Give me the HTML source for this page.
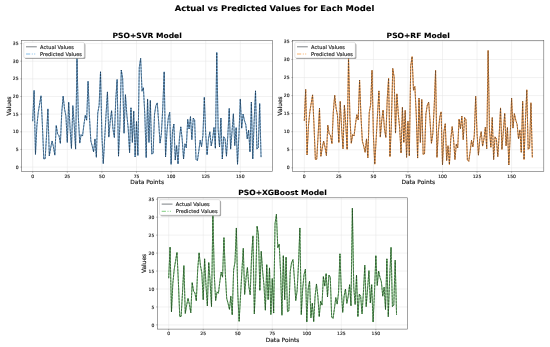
<!DOCTYPE html>
<html lang="en"><head><meta charset="utf-8"><title>Actual vs Predicted Values for Each Model</title>
<style>html,body{margin:0;padding:0;background:#fff;overflow:hidden}svg{display:block}text{stroke:#222;stroke-width:.14px;paint-order:stroke}text[font-weight=bold]{stroke:#000;stroke-width:.1px}</style></head>
<body>
<svg width="550" height="347" viewBox="0 0 550 347" font-family="'DejaVu Sans','Liberation Sans',sans-serif" text-rendering="geometricPrecision">
<rect width="550" height="347" fill="#fff"/>
<text transform="translate(274.5,10.8) scale(1,0.94)" font-size="8.42" font-weight="bold" text-anchor="middle" fill="#000">Actual vs Predicted Values for Each Model</text>
<g>
<rect x="21.6" y="40.5" width="251.1" height="131.1" fill="#fff"/>
<line x1="32.70" y1="40.5" x2="32.70" y2="171.6" stroke="#e4e4e4" stroke-width="0.5"/>
<line x1="67.30" y1="40.5" x2="67.30" y2="171.6" stroke="#e4e4e4" stroke-width="0.5"/>
<line x1="101.90" y1="40.5" x2="101.90" y2="171.6" stroke="#e4e4e4" stroke-width="0.5"/>
<line x1="136.50" y1="40.5" x2="136.50" y2="171.6" stroke="#e4e4e4" stroke-width="0.5"/>
<line x1="171.10" y1="40.5" x2="171.10" y2="171.6" stroke="#e4e4e4" stroke-width="0.5"/>
<line x1="205.70" y1="40.5" x2="205.70" y2="171.6" stroke="#e4e4e4" stroke-width="0.5"/>
<line x1="240.30" y1="40.5" x2="240.30" y2="171.6" stroke="#e4e4e4" stroke-width="0.5"/>
<line x1="21.6" y1="167.10" x2="272.7" y2="167.10" stroke="#e4e4e4" stroke-width="0.5"/>
<line x1="21.6" y1="149.45" x2="272.7" y2="149.45" stroke="#e4e4e4" stroke-width="0.5"/>
<line x1="21.6" y1="131.80" x2="272.7" y2="131.80" stroke="#e4e4e4" stroke-width="0.5"/>
<line x1="21.6" y1="114.15" x2="272.7" y2="114.15" stroke="#e4e4e4" stroke-width="0.5"/>
<line x1="21.6" y1="96.50" x2="272.7" y2="96.50" stroke="#e4e4e4" stroke-width="0.5"/>
<line x1="21.6" y1="78.85" x2="272.7" y2="78.85" stroke="#e4e4e4" stroke-width="0.5"/>
<line x1="21.6" y1="61.20" x2="272.7" y2="61.20" stroke="#e4e4e4" stroke-width="0.5"/>
<line x1="21.6" y1="43.55" x2="272.7" y2="43.55" stroke="#e4e4e4" stroke-width="0.5"/>
<clipPath id="c0"><rect x="21.6" y="40.5" width="251.1" height="131.1"/></clipPath>
<g clip-path="url(#c0)" fill="none" stroke-linejoin="round">
<polyline points="32.70,121.21 34.08,90.50 35.47,154.39 36.85,126.15 38.24,112.38 39.62,103.91 41.00,95.79 42.39,124.74 43.77,158.98 45.16,158.63 46.54,135.33 47.92,108.85 49.31,155.80 50.69,147.69 52.08,140.98 53.46,146.98 54.84,155.10 56.23,125.45 57.61,133.92 59.00,135.68 60.38,143.45 61.76,112.38 63.15,96.15 64.53,108.85 65.92,115.91 67.30,142.39 68.68,102.15 70.07,128.27 71.45,148.39 72.84,105.68 74.22,124.74 75.60,149.10 76.99,58.38 78.37,117.68 79.76,143.10 81.14,134.62 82.52,136.04 83.91,124.74 85.29,115.21 86.68,120.15 88.06,81.32 89.44,116.62 90.83,140.98 92.21,145.92 93.60,151.92 94.98,138.86 96.36,157.22 97.75,113.09 99.13,105.32 100.52,71.79 101.90,135.33 103.28,163.57 104.67,138.86 106.05,114.50 107.44,91.91 108.82,137.09 110.20,121.21 111.59,110.62 112.97,128.98 114.36,137.45 115.74,100.03 117.12,79.56 118.51,156.16 119.89,124.74 121.28,70.03 122.66,78.50 124.04,133.21 125.43,94.73 126.81,114.50 128.20,128.27 129.58,152.63 130.96,107.80 132.35,142.39 133.73,110.97 135.12,156.86 136.50,121.56 137.88,155.45 139.27,67.55 140.65,58.38 142.04,91.20 143.42,87.67 144.80,114.50 146.19,157.57 147.57,98.97 148.96,142.39 150.34,100.38 151.72,154.04 153.11,153.33 154.49,114.50 155.88,105.68 157.26,102.85 158.64,121.56 160.03,143.10 161.41,133.56 162.80,107.09 164.18,71.79 165.56,156.86 166.95,131.80 168.33,117.68 169.72,112.38 171.10,164.28 172.48,131.80 173.87,124.03 175.25,160.04 176.64,145.57 178.02,163.92 179.40,138.86 180.79,126.86 182.17,138.86 183.56,158.98 184.94,143.80 186.32,147.69 187.71,119.44 189.09,128.98 190.48,116.62 191.86,139.57 193.24,118.03 194.63,120.15 196.01,159.33 197.40,160.75 198.78,151.22 200.16,140.27 201.55,146.63 202.93,135.33 204.32,97.21 205.70,133.56 207.08,154.75 208.47,138.86 209.85,131.80 211.24,145.92 212.62,138.86 214.00,127.56 215.39,148.39 216.77,52.38 218.16,130.03 219.54,146.98 220.92,118.03 222.31,158.98 223.69,136.74 225.08,138.86 226.46,156.16 227.84,135.33 229.23,108.50 230.61,149.10 232.00,131.80 233.38,113.80 234.76,145.57 236.15,127.56 237.53,164.28 238.92,135.33 240.30,98.97 241.68,128.27 243.07,114.15 244.45,120.50 245.84,124.74 247.22,138.86 248.60,130.03 249.99,151.92 251.37,102.15 252.76,158.98 254.14,121.56 255.52,90.85 256.91,149.10 258.29,147.69 259.68,103.56 261.06,157.22" stroke="#6ab0e4" stroke-width="0.95" opacity="0.45"/>
<polyline points="32.70,121.21 34.08,90.50 35.47,154.39 36.85,126.15 38.24,112.38 39.62,103.91 41.00,95.79 42.39,124.74 43.77,158.98 45.16,158.63 46.54,135.33 47.92,108.85 49.31,155.80 50.69,147.69 52.08,140.98 53.46,146.98 54.84,155.10 56.23,125.45 57.61,133.92 59.00,135.68 60.38,143.45 61.76,112.38 63.15,96.15 64.53,108.85 65.92,115.91 67.30,142.39 68.68,102.15 70.07,128.27 71.45,148.39 72.84,105.68 74.22,124.74 75.60,149.10 76.99,58.38 78.37,117.68 79.76,143.10 81.14,134.62 82.52,136.04 83.91,124.74 85.29,115.21 86.68,120.15 88.06,81.32 89.44,116.62 90.83,140.98 92.21,145.92 93.60,151.92 94.98,138.86 96.36,157.22 97.75,113.09 99.13,105.32 100.52,71.79 101.90,135.33 103.28,163.57 104.67,138.86 106.05,114.50 107.44,91.91 108.82,137.09 110.20,121.21 111.59,110.62 112.97,128.98 114.36,137.45 115.74,100.03 117.12,79.56 118.51,156.16 119.89,124.74 121.28,70.03 122.66,78.50 124.04,133.21 125.43,94.73 126.81,114.50 128.20,128.27 129.58,152.63 130.96,107.80 132.35,142.39 133.73,110.97 135.12,156.86 136.50,121.56 137.88,155.45 139.27,67.55 140.65,58.38 142.04,91.20 143.42,87.67 144.80,114.50 146.19,157.57 147.57,98.97 148.96,142.39 150.34,100.38 151.72,154.04 153.11,153.33 154.49,114.50 155.88,105.68 157.26,102.85 158.64,121.56 160.03,143.10 161.41,133.56 162.80,107.09 164.18,71.79 165.56,156.86 166.95,131.80 168.33,117.68 169.72,112.38 171.10,164.28 172.48,131.80 173.87,124.03 175.25,160.04 176.64,145.57 178.02,163.92 179.40,138.86 180.79,126.86 182.17,138.86 183.56,158.98 184.94,143.80 186.32,147.69 187.71,119.44 189.09,128.98 190.48,116.62 191.86,139.57 193.24,118.03 194.63,120.15 196.01,159.33 197.40,160.75 198.78,151.22 200.16,140.27 201.55,146.63 202.93,135.33 204.32,97.21 205.70,133.56 207.08,154.75 208.47,138.86 209.85,131.80 211.24,145.92 212.62,138.86 214.00,127.56 215.39,148.39 216.77,52.38 218.16,130.03 219.54,146.98 220.92,118.03 222.31,158.98 223.69,136.74 225.08,138.86 226.46,156.16 227.84,135.33 229.23,108.50 230.61,149.10 232.00,131.80 233.38,113.80 234.76,145.57 236.15,127.56 237.53,164.28 238.92,135.33 240.30,98.97 241.68,128.27 243.07,114.15 244.45,120.50 245.84,124.74 247.22,138.86 248.60,130.03 249.99,151.92 251.37,102.15 252.76,158.98 254.14,121.56 255.52,90.85 256.91,149.10 258.29,147.69 259.68,103.56 261.06,157.22" stroke="#2b7bbf" stroke-width="0.7" opacity="0.7"/>
<polyline points="32.70,121.21 34.08,90.50 35.47,154.39 36.85,126.15 38.24,112.38 39.62,103.91 41.00,95.79 42.39,124.74 43.77,158.98 45.16,158.63 46.54,135.33 47.92,108.85 49.31,155.80 50.69,147.69 52.08,140.98 53.46,146.98 54.84,155.10 56.23,125.45 57.61,133.92 59.00,135.68 60.38,143.45 61.76,112.38 63.15,96.15 64.53,108.85 65.92,115.91 67.30,142.39 68.68,102.15 70.07,128.27 71.45,148.39 72.84,105.68 74.22,124.74 75.60,149.10 76.99,58.38 78.37,117.68 79.76,143.10 81.14,134.62 82.52,136.04 83.91,124.74 85.29,115.21 86.68,120.15 88.06,81.32 89.44,116.62 90.83,140.98 92.21,145.92 93.60,151.92 94.98,138.86 96.36,157.22 97.75,113.09 99.13,105.32 100.52,71.79 101.90,135.33 103.28,163.57 104.67,138.86 106.05,114.50 107.44,91.91 108.82,137.09 110.20,121.21 111.59,110.62 112.97,128.98 114.36,137.45 115.74,100.03 117.12,79.56 118.51,156.16 119.89,124.74 121.28,70.03 122.66,78.50 124.04,133.21 125.43,94.73 126.81,114.50 128.20,128.27 129.58,152.63 130.96,107.80 132.35,142.39 133.73,110.97 135.12,156.86 136.50,121.56 137.88,155.45 139.27,67.55 140.65,58.38 142.04,91.20 143.42,87.67 144.80,114.50 146.19,157.57 147.57,98.97 148.96,142.39 150.34,100.38 151.72,154.04 153.11,153.33 154.49,114.50 155.88,105.68 157.26,102.85 158.64,121.56 160.03,143.10 161.41,133.56 162.80,107.09 164.18,71.79 165.56,156.86 166.95,131.80 168.33,117.68 169.72,112.38 171.10,164.28 172.48,131.80 173.87,124.03 175.25,160.04 176.64,145.57 178.02,163.92 179.40,138.86 180.79,126.86 182.17,138.86 183.56,158.98 184.94,143.80 186.32,147.69 187.71,119.44 189.09,128.98 190.48,116.62 191.86,139.57 193.24,118.03 194.63,120.15 196.01,159.33 197.40,160.75 198.78,151.22 200.16,140.27 201.55,146.63 202.93,135.33 204.32,97.21 205.70,133.56 207.08,154.75 208.47,138.86 209.85,131.80 211.24,145.92 212.62,138.86 214.00,127.56 215.39,148.39 216.77,52.38 218.16,130.03 219.54,146.98 220.92,118.03 222.31,158.98 223.69,136.74 225.08,138.86 226.46,156.16 227.84,135.33 229.23,108.50 230.61,149.10 232.00,131.80 233.38,113.80 234.76,145.57 236.15,127.56 237.53,164.28 238.92,135.33 240.30,98.97 241.68,128.27 243.07,114.15 244.45,120.50 245.84,124.74 247.22,138.86 248.60,130.03 249.99,151.92 251.37,102.15 252.76,158.98 254.14,121.56 255.52,90.85 256.91,149.10 258.29,147.69 259.68,103.56 261.06,157.22" stroke="#16222e" stroke-width="0.58" stroke-dasharray="2.4 0.8" opacity="0.92"/>
</g>
<rect x="21.6" y="40.5" width="251.1" height="131.1" fill="none" stroke="#585858" stroke-width="0.55"/>
<line x1="32.70" y1="171.6" x2="32.70" y2="172.79999999999998" stroke="#444" stroke-width="0.4"/>
<text x="32.70" y="177.60" font-size="4.5" text-anchor="middle" fill="#222">0</text>
<line x1="67.30" y1="171.6" x2="67.30" y2="172.79999999999998" stroke="#444" stroke-width="0.4"/>
<text x="67.30" y="177.60" font-size="4.5" text-anchor="middle" fill="#222">25</text>
<line x1="101.90" y1="171.6" x2="101.90" y2="172.79999999999998" stroke="#444" stroke-width="0.4"/>
<text x="101.90" y="177.60" font-size="4.5" text-anchor="middle" fill="#222">50</text>
<line x1="136.50" y1="171.6" x2="136.50" y2="172.79999999999998" stroke="#444" stroke-width="0.4"/>
<text x="136.50" y="177.60" font-size="4.5" text-anchor="middle" fill="#222">75</text>
<line x1="171.10" y1="171.6" x2="171.10" y2="172.79999999999998" stroke="#444" stroke-width="0.4"/>
<text x="171.10" y="177.60" font-size="4.5" text-anchor="middle" fill="#222">100</text>
<line x1="205.70" y1="171.6" x2="205.70" y2="172.79999999999998" stroke="#444" stroke-width="0.4"/>
<text x="205.70" y="177.60" font-size="4.5" text-anchor="middle" fill="#222">125</text>
<line x1="240.30" y1="171.6" x2="240.30" y2="172.79999999999998" stroke="#444" stroke-width="0.4"/>
<text x="240.30" y="177.60" font-size="4.5" text-anchor="middle" fill="#222">150</text>
<line x1="20.400000000000002" y1="167.10" x2="21.6" y2="167.10" stroke="#444" stroke-width="0.4"/>
<text x="18.60" y="168.70" font-size="4.5" text-anchor="end" fill="#222">0</text>
<line x1="20.400000000000002" y1="149.45" x2="21.6" y2="149.45" stroke="#444" stroke-width="0.4"/>
<text x="18.60" y="151.05" font-size="4.5" text-anchor="end" fill="#222">5</text>
<line x1="20.400000000000002" y1="131.80" x2="21.6" y2="131.80" stroke="#444" stroke-width="0.4"/>
<text x="18.60" y="133.40" font-size="4.5" text-anchor="end" fill="#222">10</text>
<line x1="20.400000000000002" y1="114.15" x2="21.6" y2="114.15" stroke="#444" stroke-width="0.4"/>
<text x="18.60" y="115.75" font-size="4.5" text-anchor="end" fill="#222">15</text>
<line x1="20.400000000000002" y1="96.50" x2="21.6" y2="96.50" stroke="#444" stroke-width="0.4"/>
<text x="18.60" y="98.10" font-size="4.5" text-anchor="end" fill="#222">20</text>
<line x1="20.400000000000002" y1="78.85" x2="21.6" y2="78.85" stroke="#444" stroke-width="0.4"/>
<text x="18.60" y="80.45" font-size="4.5" text-anchor="end" fill="#222">25</text>
<line x1="20.400000000000002" y1="61.20" x2="21.6" y2="61.20" stroke="#444" stroke-width="0.4"/>
<text x="18.60" y="62.80" font-size="4.5" text-anchor="end" fill="#222">30</text>
<line x1="20.400000000000002" y1="43.55" x2="21.6" y2="43.55" stroke="#444" stroke-width="0.4"/>
<text x="18.60" y="45.15" font-size="4.5" text-anchor="end" fill="#222">35</text>
<text x="147.15" y="184.40" font-size="5.9" text-anchor="middle" fill="#111">Data Points</text>
<text transform="translate(10.70,106.05) rotate(-90)" font-size="5.9" text-anchor="middle" fill="#111">Values</text>
<text transform="translate(147.15,37.95) scale(1,0.95)" font-size="7.57" font-weight="bold" text-anchor="middle" fill="#000">PSO+SVR Model</text>
<rect x="24.90" y="43.50" width="60.5" height="15.5" rx="1.3" fill="#707070" opacity="0.65"/>
<rect x="23.80" y="42.40" width="60.5" height="15.5" rx="1.3" fill="#fff" stroke="#c8c8c8" stroke-width="0.45"/>
<line x1="26.00" y1="46.80" x2="36.80" y2="46.80" stroke="#4a4f55" stroke-width="0.85" opacity="0.85"/>
<line x1="26.00" y1="54.00" x2="36.80" y2="54.00" stroke="#6ab0e4" stroke-width="0.9" stroke-dasharray="4.2 1.6 1 1.4 1 1.6" opacity="0.9"/>
<text x="40.10" y="48.70" font-size="5.06" fill="#111">Actual Values</text>
<text x="40.10" y="55.90" font-size="5.06" fill="#111">Predicted Values</text>
</g>
<g>
<rect x="292.6" y="40.5" width="251.2" height="131.1" fill="#fff"/>
<line x1="304.30" y1="40.5" x2="304.30" y2="171.6" stroke="#e4e4e4" stroke-width="0.5"/>
<line x1="338.85" y1="40.5" x2="338.85" y2="171.6" stroke="#e4e4e4" stroke-width="0.5"/>
<line x1="373.40" y1="40.5" x2="373.40" y2="171.6" stroke="#e4e4e4" stroke-width="0.5"/>
<line x1="407.95" y1="40.5" x2="407.95" y2="171.6" stroke="#e4e4e4" stroke-width="0.5"/>
<line x1="442.50" y1="40.5" x2="442.50" y2="171.6" stroke="#e4e4e4" stroke-width="0.5"/>
<line x1="477.05" y1="40.5" x2="477.05" y2="171.6" stroke="#e4e4e4" stroke-width="0.5"/>
<line x1="511.60" y1="40.5" x2="511.60" y2="171.6" stroke="#e4e4e4" stroke-width="0.5"/>
<line x1="292.6" y1="167.80" x2="543.8" y2="167.80" stroke="#e4e4e4" stroke-width="0.5"/>
<line x1="292.6" y1="149.75" x2="543.8" y2="149.75" stroke="#e4e4e4" stroke-width="0.5"/>
<line x1="292.6" y1="131.70" x2="543.8" y2="131.70" stroke="#e4e4e4" stroke-width="0.5"/>
<line x1="292.6" y1="113.65" x2="543.8" y2="113.65" stroke="#e4e4e4" stroke-width="0.5"/>
<line x1="292.6" y1="95.60" x2="543.8" y2="95.60" stroke="#e4e4e4" stroke-width="0.5"/>
<line x1="292.6" y1="77.55" x2="543.8" y2="77.55" stroke="#e4e4e4" stroke-width="0.5"/>
<line x1="292.6" y1="59.50" x2="543.8" y2="59.50" stroke="#e4e4e4" stroke-width="0.5"/>
<line x1="292.6" y1="41.45" x2="543.8" y2="41.45" stroke="#e4e4e4" stroke-width="0.5"/>
<clipPath id="c1"><rect x="292.6" y="40.5" width="251.2" height="131.1"/></clipPath>
<g clip-path="url(#c1)" fill="none" stroke-linejoin="round">
<polyline points="304.30,120.87 305.68,89.46 307.06,154.80 308.45,125.92 309.83,111.85 311.21,103.18 312.59,94.88 313.97,124.48 315.36,159.50 316.74,159.14 318.12,135.31 319.50,108.24 320.88,156.25 322.27,147.95 323.65,141.09 325.03,147.22 326.41,155.53 327.79,125.20 329.18,133.87 330.56,135.67 331.94,143.61 333.32,111.85 334.70,95.24 336.09,108.24 337.47,115.46 338.85,142.53 340.23,101.38 341.61,128.09 343.00,148.67 344.38,104.99 345.76,124.48 347.14,149.39 348.52,56.61 349.91,117.26 351.29,143.25 352.67,134.59 354.05,136.03 355.43,124.48 356.82,114.73 358.20,119.79 359.58,80.08 360.96,116.18 362.34,141.09 363.73,146.14 365.11,152.28 366.49,138.92 367.87,157.69 369.25,112.57 370.64,104.63 372.02,70.33 373.40,135.31 374.78,164.19 376.16,138.92 377.55,114.01 378.93,90.91 380.31,137.12 381.69,120.87 383.07,110.04 384.46,128.81 385.84,137.48 387.22,99.21 388.60,78.27 389.98,156.61 391.37,124.48 392.75,68.53 394.13,77.19 395.51,133.14 396.89,93.80 398.28,114.01 399.66,128.09 401.04,153.00 402.42,107.15 403.80,142.53 405.19,110.40 406.57,157.33 407.95,121.23 409.33,155.89 410.71,66.00 412.10,56.61 413.48,90.19 414.86,86.58 416.24,114.01 417.62,158.05 419.01,98.13 420.39,142.53 421.77,99.57 423.15,154.44 424.53,153.72 425.92,114.01 427.30,104.99 428.68,102.10 430.06,121.23 431.44,143.25 432.83,133.50 434.21,106.43 435.59,70.33 436.97,157.33 438.35,131.70 439.74,117.26 441.12,111.85 442.50,164.91 443.88,131.70 445.26,123.76 446.65,160.58 448.03,145.78 449.41,164.55 450.79,138.92 452.17,126.65 453.56,138.92 454.94,159.50 456.32,143.97 457.70,147.95 459.08,119.07 460.47,128.81 461.85,116.18 463.23,139.64 464.61,117.62 465.99,119.79 467.38,159.86 468.76,161.30 470.14,151.56 471.52,140.36 472.90,146.86 474.29,135.31 475.67,96.32 477.05,133.50 478.43,155.17 479.81,138.92 481.20,131.70 482.58,146.14 483.96,138.92 485.34,127.37 486.72,148.67 488.11,50.48 489.49,129.90 490.87,147.22 492.25,117.62 493.63,159.50 495.02,136.75 496.40,138.92 497.78,156.61 499.16,135.31 500.54,107.87 501.93,149.39 503.31,131.70 504.69,113.29 506.07,145.78 507.45,127.37 508.84,164.91 510.22,135.31 511.60,98.13 512.98,128.09 514.36,113.65 515.75,120.15 517.13,124.48 518.51,138.92 519.89,129.90 521.27,152.28 522.66,101.38 524.04,159.50 525.42,121.23 526.80,89.82 528.18,149.39 529.57,147.95 530.95,102.82 532.33,157.69" stroke="#f6a04c" stroke-width="1.0" opacity="0.6"/>
<polyline points="304.30,120.87 305.68,89.46 307.06,154.80 308.45,125.92 309.83,111.85 311.21,103.18 312.59,94.88 313.97,124.48 315.36,159.50 316.74,159.14 318.12,135.31 319.50,108.24 320.88,156.25 322.27,147.95 323.65,141.09 325.03,147.22 326.41,155.53 327.79,125.20 329.18,133.87 330.56,135.67 331.94,143.61 333.32,111.85 334.70,95.24 336.09,108.24 337.47,115.46 338.85,142.53 340.23,101.38 341.61,128.09 343.00,148.67 344.38,104.99 345.76,124.48 347.14,149.39 348.52,56.61 349.91,117.26 351.29,143.25 352.67,134.59 354.05,136.03 355.43,124.48 356.82,114.73 358.20,119.79 359.58,80.08 360.96,116.18 362.34,141.09 363.73,146.14 365.11,152.28 366.49,138.92 367.87,157.69 369.25,112.57 370.64,104.63 372.02,70.33 373.40,135.31 374.78,164.19 376.16,138.92 377.55,114.01 378.93,90.91 380.31,137.12 381.69,120.87 383.07,110.04 384.46,128.81 385.84,137.48 387.22,99.21 388.60,78.27 389.98,156.61 391.37,124.48 392.75,68.53 394.13,77.19 395.51,133.14 396.89,93.80 398.28,114.01 399.66,128.09 401.04,153.00 402.42,107.15 403.80,142.53 405.19,110.40 406.57,157.33 407.95,121.23 409.33,155.89 410.71,66.00 412.10,56.61 413.48,90.19 414.86,86.58 416.24,114.01 417.62,158.05 419.01,98.13 420.39,142.53 421.77,99.57 423.15,154.44 424.53,153.72 425.92,114.01 427.30,104.99 428.68,102.10 430.06,121.23 431.44,143.25 432.83,133.50 434.21,106.43 435.59,70.33 436.97,157.33 438.35,131.70 439.74,117.26 441.12,111.85 442.50,164.91 443.88,131.70 445.26,123.76 446.65,160.58 448.03,145.78 449.41,164.55 450.79,138.92 452.17,126.65 453.56,138.92 454.94,159.50 456.32,143.97 457.70,147.95 459.08,119.07 460.47,128.81 461.85,116.18 463.23,139.64 464.61,117.62 465.99,119.79 467.38,159.86 468.76,161.30 470.14,151.56 471.52,140.36 472.90,146.86 474.29,135.31 475.67,96.32 477.05,133.50 478.43,155.17 479.81,138.92 481.20,131.70 482.58,146.14 483.96,138.92 485.34,127.37 486.72,148.67 488.11,50.48 489.49,129.90 490.87,147.22 492.25,117.62 493.63,159.50 495.02,136.75 496.40,138.92 497.78,156.61 499.16,135.31 500.54,107.87 501.93,149.39 503.31,131.70 504.69,113.29 506.07,145.78 507.45,127.37 508.84,164.91 510.22,135.31 511.60,98.13 512.98,128.09 514.36,113.65 515.75,120.15 517.13,124.48 518.51,138.92 519.89,129.90 521.27,152.28 522.66,101.38 524.04,159.50 525.42,121.23 526.80,89.82 528.18,149.39 529.57,147.95 530.95,102.82 532.33,157.69" stroke="#f0801a" stroke-width="0.75" opacity="0.85"/>
<polyline points="304.30,120.87 305.68,89.46 307.06,154.80 308.45,125.92 309.83,111.85 311.21,103.18 312.59,94.88 313.97,124.48 315.36,159.50 316.74,159.14 318.12,135.31 319.50,108.24 320.88,156.25 322.27,147.95 323.65,141.09 325.03,147.22 326.41,155.53 327.79,125.20 329.18,133.87 330.56,135.67 331.94,143.61 333.32,111.85 334.70,95.24 336.09,108.24 337.47,115.46 338.85,142.53 340.23,101.38 341.61,128.09 343.00,148.67 344.38,104.99 345.76,124.48 347.14,149.39 348.52,56.61 349.91,117.26 351.29,143.25 352.67,134.59 354.05,136.03 355.43,124.48 356.82,114.73 358.20,119.79 359.58,80.08 360.96,116.18 362.34,141.09 363.73,146.14 365.11,152.28 366.49,138.92 367.87,157.69 369.25,112.57 370.64,104.63 372.02,70.33 373.40,135.31 374.78,164.19 376.16,138.92 377.55,114.01 378.93,90.91 380.31,137.12 381.69,120.87 383.07,110.04 384.46,128.81 385.84,137.48 387.22,99.21 388.60,78.27 389.98,156.61 391.37,124.48 392.75,68.53 394.13,77.19 395.51,133.14 396.89,93.80 398.28,114.01 399.66,128.09 401.04,153.00 402.42,107.15 403.80,142.53 405.19,110.40 406.57,157.33 407.95,121.23 409.33,155.89 410.71,66.00 412.10,56.61 413.48,90.19 414.86,86.58 416.24,114.01 417.62,158.05 419.01,98.13 420.39,142.53 421.77,99.57 423.15,154.44 424.53,153.72 425.92,114.01 427.30,104.99 428.68,102.10 430.06,121.23 431.44,143.25 432.83,133.50 434.21,106.43 435.59,70.33 436.97,157.33 438.35,131.70 439.74,117.26 441.12,111.85 442.50,164.91 443.88,131.70 445.26,123.76 446.65,160.58 448.03,145.78 449.41,164.55 450.79,138.92 452.17,126.65 453.56,138.92 454.94,159.50 456.32,143.97 457.70,147.95 459.08,119.07 460.47,128.81 461.85,116.18 463.23,139.64 464.61,117.62 465.99,119.79 467.38,159.86 468.76,161.30 470.14,151.56 471.52,140.36 472.90,146.86 474.29,135.31 475.67,96.32 477.05,133.50 478.43,155.17 479.81,138.92 481.20,131.70 482.58,146.14 483.96,138.92 485.34,127.37 486.72,148.67 488.11,50.48 489.49,129.90 490.87,147.22 492.25,117.62 493.63,159.50 495.02,136.75 496.40,138.92 497.78,156.61 499.16,135.31 500.54,107.87 501.93,149.39 503.31,131.70 504.69,113.29 506.07,145.78 507.45,127.37 508.84,164.91 510.22,135.31 511.60,98.13 512.98,128.09 514.36,113.65 515.75,120.15 517.13,124.48 518.51,138.92 519.89,129.90 521.27,152.28 522.66,101.38 524.04,159.50 525.42,121.23 526.80,89.82 528.18,149.39 529.57,147.95 530.95,102.82 532.33,157.69" stroke="#1e2a36" stroke-width="0.58" stroke-dasharray="1.9 1.1" opacity="0.92"/>
</g>
<rect x="292.6" y="40.5" width="251.2" height="131.1" fill="none" stroke="#585858" stroke-width="0.55"/>
<line x1="304.30" y1="171.6" x2="304.30" y2="172.79999999999998" stroke="#444" stroke-width="0.4"/>
<text x="304.30" y="177.60" font-size="4.5" text-anchor="middle" fill="#222">0</text>
<line x1="338.85" y1="171.6" x2="338.85" y2="172.79999999999998" stroke="#444" stroke-width="0.4"/>
<text x="338.85" y="177.60" font-size="4.5" text-anchor="middle" fill="#222">25</text>
<line x1="373.40" y1="171.6" x2="373.40" y2="172.79999999999998" stroke="#444" stroke-width="0.4"/>
<text x="373.40" y="177.60" font-size="4.5" text-anchor="middle" fill="#222">50</text>
<line x1="407.95" y1="171.6" x2="407.95" y2="172.79999999999998" stroke="#444" stroke-width="0.4"/>
<text x="407.95" y="177.60" font-size="4.5" text-anchor="middle" fill="#222">75</text>
<line x1="442.50" y1="171.6" x2="442.50" y2="172.79999999999998" stroke="#444" stroke-width="0.4"/>
<text x="442.50" y="177.60" font-size="4.5" text-anchor="middle" fill="#222">100</text>
<line x1="477.05" y1="171.6" x2="477.05" y2="172.79999999999998" stroke="#444" stroke-width="0.4"/>
<text x="477.05" y="177.60" font-size="4.5" text-anchor="middle" fill="#222">125</text>
<line x1="511.60" y1="171.6" x2="511.60" y2="172.79999999999998" stroke="#444" stroke-width="0.4"/>
<text x="511.60" y="177.60" font-size="4.5" text-anchor="middle" fill="#222">150</text>
<line x1="291.40000000000003" y1="167.80" x2="292.6" y2="167.80" stroke="#444" stroke-width="0.4"/>
<text x="289.60" y="169.40" font-size="4.5" text-anchor="end" fill="#222">0</text>
<line x1="291.40000000000003" y1="149.75" x2="292.6" y2="149.75" stroke="#444" stroke-width="0.4"/>
<text x="289.60" y="151.35" font-size="4.5" text-anchor="end" fill="#222">5</text>
<line x1="291.40000000000003" y1="131.70" x2="292.6" y2="131.70" stroke="#444" stroke-width="0.4"/>
<text x="289.60" y="133.30" font-size="4.5" text-anchor="end" fill="#222">10</text>
<line x1="291.40000000000003" y1="113.65" x2="292.6" y2="113.65" stroke="#444" stroke-width="0.4"/>
<text x="289.60" y="115.25" font-size="4.5" text-anchor="end" fill="#222">15</text>
<line x1="291.40000000000003" y1="95.60" x2="292.6" y2="95.60" stroke="#444" stroke-width="0.4"/>
<text x="289.60" y="97.20" font-size="4.5" text-anchor="end" fill="#222">20</text>
<line x1="291.40000000000003" y1="77.55" x2="292.6" y2="77.55" stroke="#444" stroke-width="0.4"/>
<text x="289.60" y="79.15" font-size="4.5" text-anchor="end" fill="#222">25</text>
<line x1="291.40000000000003" y1="59.50" x2="292.6" y2="59.50" stroke="#444" stroke-width="0.4"/>
<text x="289.60" y="61.10" font-size="4.5" text-anchor="end" fill="#222">30</text>
<line x1="291.40000000000003" y1="41.45" x2="292.6" y2="41.45" stroke="#444" stroke-width="0.4"/>
<text x="289.60" y="43.05" font-size="4.5" text-anchor="end" fill="#222">35</text>
<text x="418.20" y="184.40" font-size="5.9" text-anchor="middle" fill="#111">Data Points</text>
<text transform="translate(281.70,106.05) rotate(-90)" font-size="5.9" text-anchor="middle" fill="#111">Values</text>
<text transform="translate(418.20,37.95) scale(1,0.95)" font-size="7.57" font-weight="bold" text-anchor="middle" fill="#000">PSO+RF Model</text>
<rect x="295.90" y="43.50" width="60.5" height="15.5" rx="1.3" fill="#707070" opacity="0.65"/>
<rect x="294.80" y="42.40" width="60.5" height="15.5" rx="1.3" fill="#fff" stroke="#c8c8c8" stroke-width="0.45"/>
<line x1="297.00" y1="46.80" x2="307.80" y2="46.80" stroke="#4a4f55" stroke-width="0.85" opacity="0.85"/>
<line x1="297.00" y1="54.00" x2="307.80" y2="54.00" stroke="#f6a04c" stroke-width="0.9" stroke-dasharray="4.2 1.6 1 1.4 1 1.6" opacity="0.9"/>
<text x="311.10" y="48.70" font-size="5.06" fill="#111">Actual Values</text>
<text x="311.10" y="55.90" font-size="5.06" fill="#111">Predicted Values</text>
</g>
<g>
<rect x="157.3" y="197.8" width="250.4" height="131.3" fill="#fff"/>
<line x1="168.70" y1="197.8" x2="168.70" y2="329.1" stroke="#e4e4e4" stroke-width="0.5"/>
<line x1="203.22" y1="197.8" x2="203.22" y2="329.1" stroke="#e4e4e4" stroke-width="0.5"/>
<line x1="237.75" y1="197.8" x2="237.75" y2="329.1" stroke="#e4e4e4" stroke-width="0.5"/>
<line x1="272.27" y1="197.8" x2="272.27" y2="329.1" stroke="#e4e4e4" stroke-width="0.5"/>
<line x1="306.80" y1="197.8" x2="306.80" y2="329.1" stroke="#e4e4e4" stroke-width="0.5"/>
<line x1="341.32" y1="197.8" x2="341.32" y2="329.1" stroke="#e4e4e4" stroke-width="0.5"/>
<line x1="375.85" y1="197.8" x2="375.85" y2="329.1" stroke="#e4e4e4" stroke-width="0.5"/>
<line x1="157.3" y1="324.90" x2="407.7" y2="324.90" stroke="#e4e4e4" stroke-width="0.5"/>
<line x1="157.3" y1="306.95" x2="407.7" y2="306.95" stroke="#e4e4e4" stroke-width="0.5"/>
<line x1="157.3" y1="289.00" x2="407.7" y2="289.00" stroke="#e4e4e4" stroke-width="0.5"/>
<line x1="157.3" y1="271.05" x2="407.7" y2="271.05" stroke="#e4e4e4" stroke-width="0.5"/>
<line x1="157.3" y1="253.10" x2="407.7" y2="253.10" stroke="#e4e4e4" stroke-width="0.5"/>
<line x1="157.3" y1="235.15" x2="407.7" y2="235.15" stroke="#e4e4e4" stroke-width="0.5"/>
<line x1="157.3" y1="217.20" x2="407.7" y2="217.20" stroke="#e4e4e4" stroke-width="0.5"/>
<line x1="157.3" y1="199.25" x2="407.7" y2="199.25" stroke="#e4e4e4" stroke-width="0.5"/>
<clipPath id="c2"><rect x="157.3" y="197.8" width="250.4" height="131.3"/></clipPath>
<g clip-path="url(#c2)" fill="none" stroke-linejoin="round">
<polyline points="168.70,278.23 170.08,247.00 171.46,311.98 172.84,283.26 174.22,269.25 175.60,260.64 176.99,252.38 178.37,281.82 179.75,316.64 181.13,316.28 182.51,292.59 183.89,265.66 185.27,313.41 186.65,305.15 188.03,298.33 189.41,304.44 190.80,312.69 192.18,282.54 193.56,291.15 194.94,292.95 196.32,300.85 197.70,269.25 199.08,252.74 200.46,265.66 201.84,272.84 203.22,299.77 204.61,258.84 205.99,285.41 207.37,305.87 208.75,262.43 210.13,281.82 211.51,306.59 212.89,214.33 214.27,274.64 215.65,300.49 217.03,291.87 218.42,293.31 219.80,281.82 221.18,272.13 222.56,277.15 223.94,237.66 225.32,273.56 226.70,298.33 228.08,303.36 229.46,309.46 230.84,296.18 232.23,314.85 233.61,269.97 234.99,262.07 236.37,227.97 237.75,292.59 239.13,321.31 240.51,296.18 241.89,271.41 243.27,248.43 244.65,294.38 246.04,278.23 247.42,267.46 248.80,286.13 250.18,294.74 251.56,256.69 252.94,235.87 254.32,313.77 255.70,281.82 257.08,226.17 258.46,234.79 259.85,290.44 261.23,251.30 262.61,271.41 263.99,285.41 265.37,310.18 266.75,264.59 268.13,299.77 269.51,267.82 270.89,314.49 272.27,278.59 273.66,313.05 275.04,223.66 276.42,214.33 277.80,247.71 279.18,244.12 280.56,271.41 281.94,315.21 283.32,255.61 284.70,299.77 286.08,257.05 287.47,311.62 288.85,310.90 290.23,271.41 291.61,262.43 292.99,259.56 294.37,278.59 295.75,300.49 297.13,290.79 298.51,263.87 299.89,227.97 301.28,314.49 302.66,289.00 304.04,274.64 305.42,269.25 306.80,322.03 308.18,289.00 309.56,281.10 310.94,317.72 312.32,303.00 313.70,321.67 315.09,296.18 316.47,283.97 317.85,296.18 319.23,316.64 320.61,301.21 321.99,305.15 323.37,276.44 324.75,286.13 326.13,273.56 327.51,296.90 328.90,275.00 330.28,277.15 331.66,317.00 333.04,318.44 334.42,308.75 335.80,297.62 337.18,304.08 338.56,292.59 339.94,253.82 341.32,290.79 342.71,312.33 344.09,296.18 345.47,289.00 346.85,303.36 348.23,296.18 349.61,284.69 350.99,305.87 352.37,208.22 353.75,287.20 355.13,304.44 356.52,275.00 357.90,316.64 359.28,294.03 360.66,296.18 362.04,313.77 363.42,292.59 364.80,265.31 366.18,306.59 367.56,289.00 368.94,270.69 370.33,303.00 371.71,284.69 373.09,322.03 374.47,292.59 375.85,255.61 377.23,285.41 378.61,271.05 379.99,277.51 381.37,281.82 382.75,296.18 384.14,287.20 385.52,309.46 386.90,258.84 388.28,316.64 389.66,278.59 391.04,247.36 392.42,306.59 393.80,305.15 395.18,260.28 396.56,314.85" stroke="#62c262" stroke-width="0.95" opacity="0.45"/>
<polyline points="168.70,278.23 170.08,247.00 171.46,311.98 172.84,283.26 174.22,269.25 175.60,260.64 176.99,252.38 178.37,281.82 179.75,316.64 181.13,316.28 182.51,292.59 183.89,265.66 185.27,313.41 186.65,305.15 188.03,298.33 189.41,304.44 190.80,312.69 192.18,282.54 193.56,291.15 194.94,292.95 196.32,300.85 197.70,269.25 199.08,252.74 200.46,265.66 201.84,272.84 203.22,299.77 204.61,258.84 205.99,285.41 207.37,305.87 208.75,262.43 210.13,281.82 211.51,306.59 212.89,214.33 214.27,274.64 215.65,300.49 217.03,291.87 218.42,293.31 219.80,281.82 221.18,272.13 222.56,277.15 223.94,237.66 225.32,273.56 226.70,298.33 228.08,303.36 229.46,309.46 230.84,296.18 232.23,314.85 233.61,269.97 234.99,262.07 236.37,227.97 237.75,292.59 239.13,321.31 240.51,296.18 241.89,271.41 243.27,248.43 244.65,294.38 246.04,278.23 247.42,267.46 248.80,286.13 250.18,294.74 251.56,256.69 252.94,235.87 254.32,313.77 255.70,281.82 257.08,226.17 258.46,234.79 259.85,290.44 261.23,251.30 262.61,271.41 263.99,285.41 265.37,310.18 266.75,264.59 268.13,299.77 269.51,267.82 270.89,314.49 272.27,278.59 273.66,313.05 275.04,223.66 276.42,214.33 277.80,247.71 279.18,244.12 280.56,271.41 281.94,315.21 283.32,255.61 284.70,299.77 286.08,257.05 287.47,311.62 288.85,310.90 290.23,271.41 291.61,262.43 292.99,259.56 294.37,278.59 295.75,300.49 297.13,290.79 298.51,263.87 299.89,227.97 301.28,314.49 302.66,289.00 304.04,274.64 305.42,269.25 306.80,322.03 308.18,289.00 309.56,281.10 310.94,317.72 312.32,303.00 313.70,321.67 315.09,296.18 316.47,283.97 317.85,296.18 319.23,316.64 320.61,301.21 321.99,305.15 323.37,276.44 324.75,286.13 326.13,273.56 327.51,296.90 328.90,275.00 330.28,277.15 331.66,317.00 333.04,318.44 334.42,308.75 335.80,297.62 337.18,304.08 338.56,292.59 339.94,253.82 341.32,290.79 342.71,312.33 344.09,296.18 345.47,289.00 346.85,303.36 348.23,296.18 349.61,284.69 350.99,305.87 352.37,208.22 353.75,287.20 355.13,304.44 356.52,275.00 357.90,316.64 359.28,294.03 360.66,296.18 362.04,313.77 363.42,292.59 364.80,265.31 366.18,306.59 367.56,289.00 368.94,270.69 370.33,303.00 371.71,284.69 373.09,322.03 374.47,292.59 375.85,255.61 377.23,285.41 378.61,271.05 379.99,277.51 381.37,281.82 382.75,296.18 384.14,287.20 385.52,309.46 386.90,258.84 388.28,316.64 389.66,278.59 391.04,247.36 392.42,306.59 393.80,305.15 395.18,260.28 396.56,314.85" stroke="#2ca02c" stroke-width="0.7" opacity="0.7"/>
<polyline points="168.70,278.23 170.08,247.00 171.46,311.98 172.84,283.26 174.22,269.25 175.60,260.64 176.99,252.38 178.37,281.82 179.75,316.64 181.13,316.28 182.51,292.59 183.89,265.66 185.27,313.41 186.65,305.15 188.03,298.33 189.41,304.44 190.80,312.69 192.18,282.54 193.56,291.15 194.94,292.95 196.32,300.85 197.70,269.25 199.08,252.74 200.46,265.66 201.84,272.84 203.22,299.77 204.61,258.84 205.99,285.41 207.37,305.87 208.75,262.43 210.13,281.82 211.51,306.59 212.89,214.33 214.27,274.64 215.65,300.49 217.03,291.87 218.42,293.31 219.80,281.82 221.18,272.13 222.56,277.15 223.94,237.66 225.32,273.56 226.70,298.33 228.08,303.36 229.46,309.46 230.84,296.18 232.23,314.85 233.61,269.97 234.99,262.07 236.37,227.97 237.75,292.59 239.13,321.31 240.51,296.18 241.89,271.41 243.27,248.43 244.65,294.38 246.04,278.23 247.42,267.46 248.80,286.13 250.18,294.74 251.56,256.69 252.94,235.87 254.32,313.77 255.70,281.82 257.08,226.17 258.46,234.79 259.85,290.44 261.23,251.30 262.61,271.41 263.99,285.41 265.37,310.18 266.75,264.59 268.13,299.77 269.51,267.82 270.89,314.49 272.27,278.59 273.66,313.05 275.04,223.66 276.42,214.33 277.80,247.71 279.18,244.12 280.56,271.41 281.94,315.21 283.32,255.61 284.70,299.77 286.08,257.05 287.47,311.62 288.85,310.90 290.23,271.41 291.61,262.43 292.99,259.56 294.37,278.59 295.75,300.49 297.13,290.79 298.51,263.87 299.89,227.97 301.28,314.49 302.66,289.00 304.04,274.64 305.42,269.25 306.80,322.03 308.18,289.00 309.56,281.10 310.94,317.72 312.32,303.00 313.70,321.67 315.09,296.18 316.47,283.97 317.85,296.18 319.23,316.64 320.61,301.21 321.99,305.15 323.37,276.44 324.75,286.13 326.13,273.56 327.51,296.90 328.90,275.00 330.28,277.15 331.66,317.00 333.04,318.44 334.42,308.75 335.80,297.62 337.18,304.08 338.56,292.59 339.94,253.82 341.32,290.79 342.71,312.33 344.09,296.18 345.47,289.00 346.85,303.36 348.23,296.18 349.61,284.69 350.99,305.87 352.37,208.22 353.75,287.20 355.13,304.44 356.52,275.00 357.90,316.64 359.28,294.03 360.66,296.18 362.04,313.77 363.42,292.59 364.80,265.31 366.18,306.59 367.56,289.00 368.94,270.69 370.33,303.00 371.71,284.69 373.09,322.03 374.47,292.59 375.85,255.61 377.23,285.41 378.61,271.05 379.99,277.51 381.37,281.82 382.75,296.18 384.14,287.20 385.52,309.46 386.90,258.84 388.28,316.64 389.66,278.59 391.04,247.36 392.42,306.59 393.80,305.15 395.18,260.28 396.56,314.85" stroke="#162216" stroke-width="0.58" stroke-dasharray="2.4 0.8" opacity="0.92"/>
</g>
<rect x="157.3" y="197.8" width="250.4" height="131.3" fill="none" stroke="#585858" stroke-width="0.55"/>
<line x1="168.70" y1="329.1" x2="168.70" y2="330.3" stroke="#444" stroke-width="0.4"/>
<text x="168.70" y="335.10" font-size="4.5" text-anchor="middle" fill="#222">0</text>
<line x1="203.22" y1="329.1" x2="203.22" y2="330.3" stroke="#444" stroke-width="0.4"/>
<text x="203.22" y="335.10" font-size="4.5" text-anchor="middle" fill="#222">25</text>
<line x1="237.75" y1="329.1" x2="237.75" y2="330.3" stroke="#444" stroke-width="0.4"/>
<text x="237.75" y="335.10" font-size="4.5" text-anchor="middle" fill="#222">50</text>
<line x1="272.27" y1="329.1" x2="272.27" y2="330.3" stroke="#444" stroke-width="0.4"/>
<text x="272.27" y="335.10" font-size="4.5" text-anchor="middle" fill="#222">75</text>
<line x1="306.80" y1="329.1" x2="306.80" y2="330.3" stroke="#444" stroke-width="0.4"/>
<text x="306.80" y="335.10" font-size="4.5" text-anchor="middle" fill="#222">100</text>
<line x1="341.32" y1="329.1" x2="341.32" y2="330.3" stroke="#444" stroke-width="0.4"/>
<text x="341.32" y="335.10" font-size="4.5" text-anchor="middle" fill="#222">125</text>
<line x1="375.85" y1="329.1" x2="375.85" y2="330.3" stroke="#444" stroke-width="0.4"/>
<text x="375.85" y="335.10" font-size="4.5" text-anchor="middle" fill="#222">150</text>
<line x1="156.10000000000002" y1="324.90" x2="157.3" y2="324.90" stroke="#444" stroke-width="0.4"/>
<text x="154.30" y="326.50" font-size="4.5" text-anchor="end" fill="#222">0</text>
<line x1="156.10000000000002" y1="306.95" x2="157.3" y2="306.95" stroke="#444" stroke-width="0.4"/>
<text x="154.30" y="308.55" font-size="4.5" text-anchor="end" fill="#222">5</text>
<line x1="156.10000000000002" y1="289.00" x2="157.3" y2="289.00" stroke="#444" stroke-width="0.4"/>
<text x="154.30" y="290.60" font-size="4.5" text-anchor="end" fill="#222">10</text>
<line x1="156.10000000000002" y1="271.05" x2="157.3" y2="271.05" stroke="#444" stroke-width="0.4"/>
<text x="154.30" y="272.65" font-size="4.5" text-anchor="end" fill="#222">15</text>
<line x1="156.10000000000002" y1="253.10" x2="157.3" y2="253.10" stroke="#444" stroke-width="0.4"/>
<text x="154.30" y="254.70" font-size="4.5" text-anchor="end" fill="#222">20</text>
<line x1="156.10000000000002" y1="235.15" x2="157.3" y2="235.15" stroke="#444" stroke-width="0.4"/>
<text x="154.30" y="236.75" font-size="4.5" text-anchor="end" fill="#222">25</text>
<line x1="156.10000000000002" y1="217.20" x2="157.3" y2="217.20" stroke="#444" stroke-width="0.4"/>
<text x="154.30" y="218.80" font-size="4.5" text-anchor="end" fill="#222">30</text>
<line x1="156.10000000000002" y1="199.25" x2="157.3" y2="199.25" stroke="#444" stroke-width="0.4"/>
<text x="154.30" y="200.85" font-size="4.5" text-anchor="end" fill="#222">35</text>
<text x="282.50" y="341.90" font-size="5.9" text-anchor="middle" fill="#111">Data Points</text>
<text transform="translate(146.40,263.45) rotate(-90)" font-size="5.9" text-anchor="middle" fill="#111">Values</text>
<text transform="translate(282.50,195.25) scale(1,0.95)" font-size="7.57" font-weight="bold" text-anchor="middle" fill="#000">PSO+XGBoost Model</text>
<rect x="160.60" y="200.80" width="60.5" height="15.5" rx="1.3" fill="#707070" opacity="0.65"/>
<rect x="159.50" y="199.70" width="60.5" height="15.5" rx="1.3" fill="#fff" stroke="#c8c8c8" stroke-width="0.45"/>
<line x1="161.70" y1="204.10" x2="172.50" y2="204.10" stroke="#4a4f55" stroke-width="0.85" opacity="0.85"/>
<line x1="161.70" y1="211.30" x2="172.50" y2="211.30" stroke="#62c262" stroke-width="0.9" stroke-dasharray="4.2 1.6 1 1.4 1 1.6" opacity="0.9"/>
<text x="175.80" y="206.00" font-size="5.06" fill="#111">Actual Values</text>
<text x="175.80" y="213.20" font-size="5.06" fill="#111">Predicted Values</text>
</g>
</svg>
</body></html>
